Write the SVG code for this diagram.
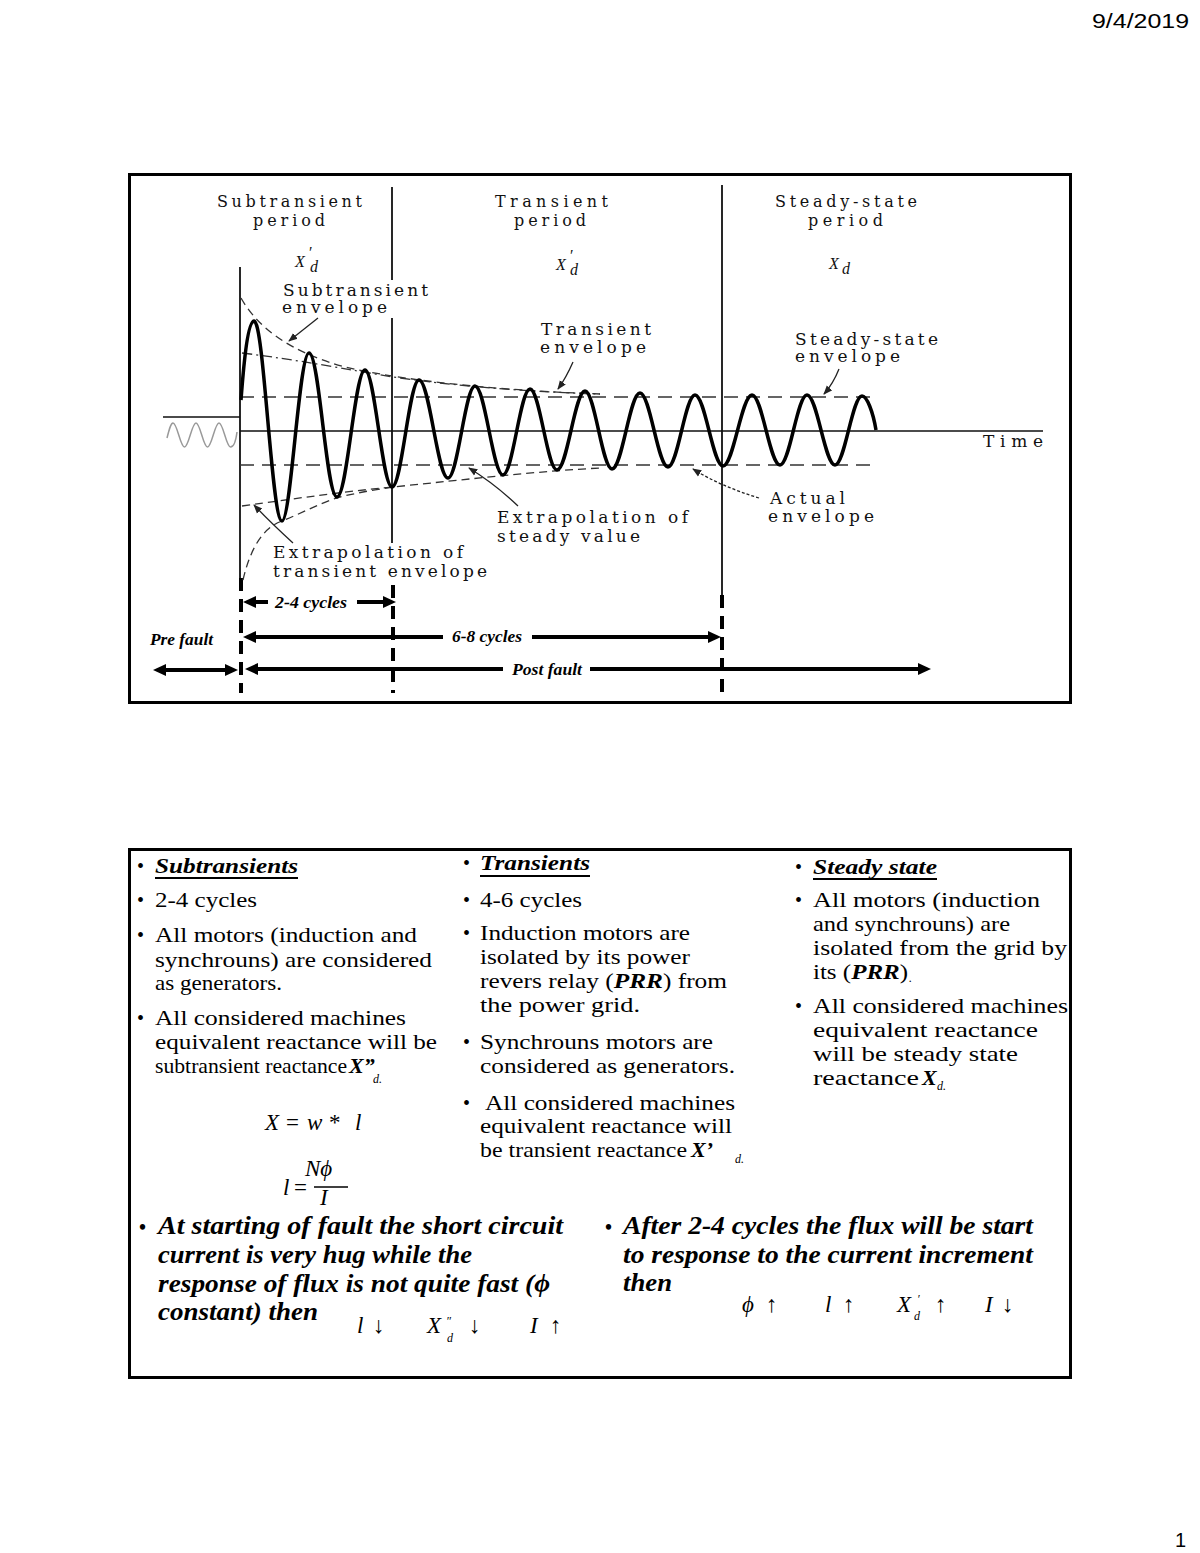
<svg xmlns="http://www.w3.org/2000/svg" width="1200" height="1553" viewBox="0 0 1200 1553">
<defs>
<style>
.fig{font-family:"DejaVu Serif","Liberation Serif",serif;font-size:17px;fill:#111}
.hd{font-family:"DejaVu Serif","Liberation Serif",serif;font-size:16px;fill:#111}
.xl{font-family:"Liberation Serif","DejaVu Serif",serif;font-style:italic;font-size:16px;fill:#111}
.cyc{font-family:"Liberation Serif","DejaVu Serif",serif;font-style:italic;font-weight:bold;font-size:16px;fill:#000}
.bd{font-family:"Liberation Serif","DejaVu Serif",serif;font-size:22px;fill:#000}
.bi{font-family:"Liberation Serif","DejaVu Serif",serif;font-style:italic;font-weight:bold;font-size:22px;fill:#000}
.st{font-family:"Liberation Serif","DejaVu Serif",serif;font-style:italic;font-weight:bold;font-size:26px;fill:#000}
.mi{font-family:"Liberation Serif","DejaVu Serif",serif;font-style:italic;font-size:23px;fill:#000}
.mr{font-family:"Liberation Serif","DejaVu Serif",serif;font-size:23px;fill:#000}
.sb{font-family:"Liberation Serif","DejaVu Serif",serif;font-style:italic;font-size:12px;fill:#000}
.bul{font-family:"Liberation Serif","DejaVu Serif",serif;font-size:20px;fill:#000}
.thin{fill:none;stroke:#111;stroke-width:1.8}
.tdash{fill:none;stroke:#000;stroke-width:4;stroke-dasharray:13 8}
.env{fill:none;stroke:#333;stroke-width:1.3}
.ann{fill:none;stroke:#222;stroke-width:1.3}
.arr{stroke:#000;stroke-width:4;fill:none}
.box{fill:none;stroke:#000;stroke-width:3}
</style>
<marker id="ah" viewBox="0 0 10 10" refX="9" refY="5" markerWidth="7" markerHeight="7" orient="auto"><path d="M0,1 L10,5 L0,9 z" fill="#222"/></marker>
</defs>
<rect width="1200" height="1553" fill="#fff"/>
<text id="date" x="1092" y="28" font-family="Liberation Sans, Arial, sans-serif" font-size="20" textLength="97" lengthAdjust="spacingAndGlyphs">9/4/2019</text>
<text id="page" x="1175" y="1547" font-family="Liberation Sans, Arial, sans-serif" font-size="20">1</text>

<g id="figure">
<rect class="box" x="129.5" y="174.5" width="941" height="528"/>
<g id="gridlines">
<path class="thin" d="M240,267 V578 M392,187 V280 M392,318 V543 M722,185 V595"/>
<path class="tdash" d="M241,578 V693 M393,585 V693 M722,595 V697"/>
<path fill="none" stroke="#111" stroke-width="1.5" d="M240,431 H1043 M163,417 H240"/>
<path fill="none" stroke="#999" stroke-width="1.5" d="M167,438 C169.5,428 171,423 173,423 C177.2,423 180.3,447 184.5,447 C188.7,447 191.8,423 196,423 C200.2,423 203.3,447 207.5,447 C211.7,447 214.8,423 219,423 C223.2,423 226.3,447 230.5,447 C234,447 236,440 237,432"/>
<path fill="none" stroke="#333" stroke-width="1.5" stroke-dasharray="14 8" d="M240,397 H876 M240,465 H876"/>
</g>
<g id="envelopes">
<path class="env" stroke-dasharray="8 5" d="M241,298 C258,328 290,352 345,367 C420,384 520,391 600,394"/>
<path class="env" stroke-dasharray="10 4 2 4" d="M242,353 C300,360 350,370 393,377 C470,388 540,392 600,394"/>
<path class="env" stroke-dasharray="8 5" d="M242,506 C300,498 340,492 393,487 C470,479 540,471 600,468"/>
<path class="env" stroke-dasharray="8 5" d="M243,580 C250,550 262,528 282,521 C300,514 320,503 340,497 C360,492 380,489 393,487"/>
</g>
<path id="waveform" fill="none" stroke="#000" stroke-width="3.5" d="M241,400 C244,360 248,322 254,321 C264,320 271.5,521 282,521 C291.1,521 299,353 309,353 C319.5,353 326.1,497 337,497 C347.2,497 354.8,370 365,370 C374.8,370 382.2,487 392,487 C401.8,487 409.2,380 419,380 C429.5,380 437.5,478 448,478 C457.8,478 465.2,386 475,386 C485.2,386 492.8,475 503,475 C512.8,475 520.2,389 530,389 C539.8,389 547.2,470 557,470 C567.2,470 574.8,391 585,391 C594.8,391 602.2,469 612,469 C622.2,469 629.8,393 640,393 C650.2,393 657.8,467 668,467 C677.8,467 685.2,395 695,395 C705.2,395 712.8,466 723,466 C733.5,466 741.5,395 752,395 C762.2,395 769.8,465 780,465 C789.8,465 797.2,395 807,395 C817.2,395 824.8,465 835,465 C844.8,465 852.2,396 862,396 C867,396 873,412 876,430"/>
<g id="annotations">
<path class="ann" marker-end="url(#ah)" d="M318,318 L289,341"/>
<path class="ann" marker-end="url(#ah)" d="M573,362 Q566,378 558,389"/>
<path class="ann" marker-end="url(#ah)" d="M839,369 Q833,384 824,394"/>
<path class="ann" marker-end="url(#ah)" d="M518,506 Q495,484 469,468"/>
<path class="ann" marker-end="url(#ah)" stroke-dasharray="3 2" d="M759,498 Q720,486 693,469"/>
<path class="ann" marker-end="url(#ah)" d="M293,543 Q270,522 254,505"/>
</g>
<g id="fig-labels">
<text class="hd" x="217" y="207" textLength="145" lengthAdjust="spacing">Subtransient</text>
<text class="hd" x="253" y="226" textLength="72" lengthAdjust="spacing">period</text>
<text class="hd" x="495" y="207" textLength="113" lengthAdjust="spacing">Transient</text>
<text class="hd" x="514" y="226" textLength="72" lengthAdjust="spacing">period</text>
<text class="hd" x="775" y="207" textLength="142" lengthAdjust="spacing">Steady-state</text>
<text class="hd" x="808" y="226" textLength="75" lengthAdjust="spacing">period</text>
<text class="xl" x="295" y="267">X</text><text class="xl" x="308" y="258" font-size="12">′</text><text class="xl" x="310" y="272" font-size="9">d</text>
<text class="xl" x="556" y="270">X</text><text class="xl" x="569" y="261" font-size="12">′</text><text class="xl" x="570" y="275" font-size="9">d</text>
<text class="xl" x="829" y="269">X</text><text class="xl" x="842" y="274" font-size="9">d</text>
<text class="fig" x="283" y="296" textLength="145" lengthAdjust="spacing">Subtransient</text>
<text class="fig" x="282" y="313" textLength="105" lengthAdjust="spacing">envelope</text>
<text class="fig" x="541" y="335" textLength="110" lengthAdjust="spacing">Transient</text>
<text class="fig" x="540" y="353" textLength="106" lengthAdjust="spacing">envelope</text>
<text class="fig" x="795" y="345" textLength="143" lengthAdjust="spacing">Steady-state</text>
<text class="fig" x="795" y="362" textLength="105" lengthAdjust="spacing">envelope</text>
<text class="fig" x="983" y="447" textLength="60" lengthAdjust="spacing">Time</text>
<text class="fig" x="497" y="523" textLength="191" lengthAdjust="spacing">Extrapolation of</text>
<text class="fig" x="497" y="542" textLength="143" lengthAdjust="spacing">steady value</text>
<text class="fig" x="770" y="504" textLength="75" lengthAdjust="spacing">Actual</text>
<text class="fig" x="768" y="522" textLength="106" lengthAdjust="spacing">envelope</text>
<text class="fig" x="273" y="558" textLength="190" lengthAdjust="spacing">Extrapolation of</text>
<text class="fig" x="273" y="577" textLength="214" lengthAdjust="spacing">transient envelope</text>
</g>
<g id="cycle-arrows">
<path class="arr" d="M252,602 H268 M357,602 H385"/>
<polygon points="243,602 256,596 256,608"/>
<polygon points="396,602 383,596 383,608"/>
<text class="cyc" x="275" y="608" textLength="72" lengthAdjust="spacingAndGlyphs">2-4 cycles</text>
<path class="arr" d="M252,637 H443 M532,637 H710"/>
<polygon points="243,637 256,631 256,643"/>
<polygon points="721,637 708,631 708,643"/>
<text class="cyc" x="452" y="642" textLength="70" lengthAdjust="spacingAndGlyphs">6-8 cycles</text>
<path class="arr" d="M254,669 H503 M590,669 H920"/>
<polygon points="245,669 258,663 258,675"/>
<polygon points="931,669 918,663 918,675"/>
<text class="cyc" x="512" y="675" textLength="70" lengthAdjust="spacingAndGlyphs">Post fault</text>
<path class="arr" d="M162,670 H229"/>
<polygon points="153,670 166,664 166,676"/>
<polygon points="238,670 225,664 225,676"/>
<text class="cyc" x="150" y="645" textLength="63" lengthAdjust="spacingAndGlyphs">Pre fault</text>
</g>
</g>

<g id="notes">
<rect class="box" x="129.5" y="849.5" width="941" height="528"/>
<g id="col-subtransients">
<text class="bul" x="137" y="873">•</text>
<text class="bi" x="155" y="873" textLength="143" lengthAdjust="spacingAndGlyphs">Subtransients</text>
<line x1="155" y1="878" x2="298" y2="878" stroke="#000" stroke-width="2"/>
<text class="bul" x="137" y="907">•</text>
<text class="bd" x="155" y="907" textLength="102" lengthAdjust="spacingAndGlyphs">2-4 cycles</text>
<text class="bul" x="137" y="942">•</text>
<text class="bd" x="155" y="942" textLength="262" lengthAdjust="spacingAndGlyphs">All motors (induction and</text>
<text class="bd" x="155" y="967" textLength="277" lengthAdjust="spacingAndGlyphs">synchrouns) are considered</text>
<text class="bd" x="155" y="990" textLength="127" lengthAdjust="spacingAndGlyphs">as generators.</text>
<text class="bul" x="137" y="1025">•</text>
<text class="bd" x="155" y="1025" textLength="251" lengthAdjust="spacingAndGlyphs">All considered machines</text>
<text class="bd" x="155" y="1049" textLength="282" lengthAdjust="spacingAndGlyphs">equivalent reactance will be</text>
<text class="bd" x="155" y="1073" textLength="192" lengthAdjust="spacingAndGlyphs">subtransient reactance</text>
<text class="bi" x="349" y="1073">X”</text>
<text class="sb" x="373" y="1083">d.</text>
<text class="mi" x="265" y="1130">X</text><text class="mr" x="286" y="1130">=</text><text class="mi" x="307" y="1130">w</text><text class="mr" x="329" y="1130">*</text><text class="mi" x="355" y="1130">l</text>
<text class="mi" x="283" y="1195">l</text><text class="mr" x="294" y="1195">=</text>
<text class="mi" x="305" y="1176" font-size="25">Nϕ</text>
<line x1="314" y1="1187" x2="348" y2="1187" stroke="#000" stroke-width="1.3"/>
<text class="mi" x="320" y="1205" font-size="18">I</text>
</g>
<g id="col-transients">
<text class="bul" x="463" y="870">•</text>
<text class="bi" x="480" y="870" textLength="110" lengthAdjust="spacingAndGlyphs">Transients</text>
<line x1="480" y1="876" x2="590" y2="876" stroke="#000" stroke-width="2"/>
<text class="bul" x="463" y="907">•</text>
<text class="bd" x="480" y="907" textLength="102" lengthAdjust="spacingAndGlyphs">4-6 cycles</text>
<text class="bul" x="463" y="940">•</text>
<text class="bd" x="480" y="940" textLength="210" lengthAdjust="spacingAndGlyphs">Induction motors are</text>
<text class="bd" x="480" y="964" textLength="210" lengthAdjust="spacingAndGlyphs">isolated by its power</text>
<text class="bd" x="480" y="988" textLength="247" lengthAdjust="spacingAndGlyphs">revers relay (<tspan font-weight="bold" font-style="italic">PRR</tspan>) from</text>
<text class="bd" x="480" y="1012" textLength="160" lengthAdjust="spacingAndGlyphs">the power grid.</text>
<text class="bul" x="463" y="1049">•</text>
<text class="bd" x="480" y="1049" textLength="233" lengthAdjust="spacingAndGlyphs">Synchrouns motors are</text>
<text class="bd" x="480" y="1073" textLength="255" lengthAdjust="spacingAndGlyphs">considered as generators.</text>
<text class="bul" x="463" y="1110">•</text>
<text class="bd" x="485" y="1110" textLength="250" lengthAdjust="spacingAndGlyphs">All considered machines</text>
<text class="bd" x="480" y="1133" textLength="252" lengthAdjust="spacingAndGlyphs">equivalent reactance will</text>
<text class="bd" x="480" y="1157" textLength="207" lengthAdjust="spacingAndGlyphs">be transient reactance</text>
<text class="bi" x="691" y="1157">X’</text>
<text class="sb" x="735" y="1163">d.</text>
</g>
<g id="col-steady">
<text class="bul" x="795" y="874">•</text>
<text class="bi" x="813" y="874" textLength="124" lengthAdjust="spacingAndGlyphs">Steady state</text>
<line x1="813" y1="879" x2="937" y2="879" stroke="#000" stroke-width="2"/>
<text class="bul" x="795" y="907">•</text>
<text class="bd" x="813" y="907" textLength="227" lengthAdjust="spacingAndGlyphs">All motors (induction</text>
<text class="bd" x="813" y="931" textLength="197" lengthAdjust="spacingAndGlyphs">and synchrouns) are</text>
<text class="bd" x="813" y="955" textLength="254" lengthAdjust="spacingAndGlyphs">isolated from the grid by</text>
<text class="bd" x="813" y="979" textLength="95" lengthAdjust="spacingAndGlyphs">its (<tspan font-weight="bold" font-style="italic">PRR</tspan>)</text>
<text class="sb" x="909" y="982">.</text>
<text class="bul" x="795" y="1013">•</text>
<text class="bd" x="813" y="1013" textLength="255" lengthAdjust="spacingAndGlyphs">All considered machines</text>
<text class="bd" x="813" y="1037" textLength="225" lengthAdjust="spacingAndGlyphs">equivalent reactance</text>
<text class="bd" x="813" y="1061" textLength="205" lengthAdjust="spacingAndGlyphs">will be steady state</text>
<text class="bd" x="813" y="1085" textLength="106" lengthAdjust="spacingAndGlyphs">reactance</text>
<text class="bi" x="922" y="1085">X</text>
<text class="sb" x="937" y="1090">d.</text>
</g>
<g id="statement-left">
<text class="bul" x="139" y="1234" font-size="24" font-weight="bold">•</text>
<text class="st" x="158" y="1234" textLength="405" lengthAdjust="spacingAndGlyphs">At starting of fault  the short circuit</text>
<text class="st" x="158" y="1263" textLength="314" lengthAdjust="spacingAndGlyphs">current is very hug while the</text>
<text class="st" x="158" y="1292" textLength="392" lengthAdjust="spacingAndGlyphs">response of flux is not quite fast (ϕ</text>
<text class="st" x="158" y="1320" textLength="160" lengthAdjust="spacingAndGlyphs">constant) then</text>
<text class="mi" x="357" y="1333">l</text><text class="mr" x="373" y="1333">↓</text>
<text class="mi" x="427" y="1333">X</text><text class="sb" x="446" y="1325" font-size="13">″</text><text class="sb" x="447" y="1342" font-size="13">d</text><text class="mr" x="469" y="1333">↓</text>
<text class="mi" x="530" y="1333">I</text><text class="mr" x="550" y="1333">↑</text>
</g>
<g id="statement-right">
<text class="bul" x="605" y="1234" font-size="24" font-weight="bold">•</text>
<text class="st" x="623" y="1234" textLength="410" lengthAdjust="spacingAndGlyphs">After 2-4 cycles the flux will be start</text>
<text class="st" x="623" y="1263" textLength="410" lengthAdjust="spacingAndGlyphs">to response to the current increment</text>
<text class="st" x="623" y="1291" textLength="49" lengthAdjust="spacingAndGlyphs">then</text>
<text class="mi" x="742" y="1312">ϕ</text><text class="mr" x="766" y="1312">↑</text>
<text class="mi" x="825" y="1312">l</text><text class="mr" x="843" y="1312">↑</text>
<text class="mi" x="897" y="1312">X</text><text class="sb" x="917" y="1303" font-size="13">′</text><text class="sb" x="914" y="1320" font-size="13">d</text><text class="mr" x="935" y="1312">↑</text>
<text class="mi" x="985" y="1312">I</text><text class="mr" x="1002" y="1312">↓</text>
</g>
</g>
</svg>
